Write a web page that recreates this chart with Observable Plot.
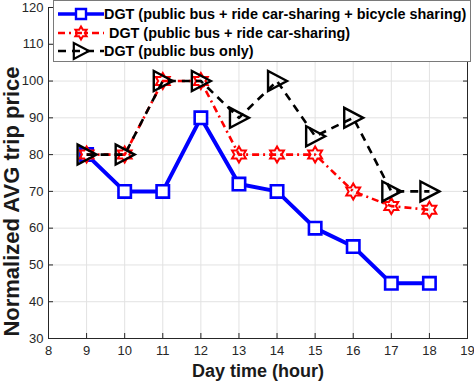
<!DOCTYPE html>
<html><head><meta charset="utf-8">
<script src="https://cdn.jsdelivr.net/npm/d3@7"></script>
<script src="https://cdn.jsdelivr.net/npm/@observablehq/plot@0.6"></script>
<style>
body{margin:0;background:#fff;}
#wrap{position:relative;width:474px;height:382px;font-family:"Liberation Sans",Arial,Helvetica,sans-serif;}
#legend{position:absolute;left:53px;top:0;width:418px;height:62px;background:#fff;border:1px solid #7a7a7a;box-sizing:border-box;}
.row{position:absolute;left:0;height:18px;display:flex;align-items:center;font-weight:bold;font-size:14.4px;color:#000;white-space:nowrap;}
.row svg{flex:none;}
</style></head><body><div id="wrap"></div>
<script>
// ---- data ----
const hours = [9, 10, 11, 12, 13, 14, 15, 16, 17, 18];
const bikeSharing = [80, 70, 70, 90, 72, 70, 60, 55, 45, 45];
const rideSharing = [80, 80, 100, 100, 80, 80, 80, 70, 66, 65];
const busOnly = [80, 80, 100, 100, 90, 100, 85, 90, 70, 70];
const seriesNames = [
  "DGT (public bus + ride car-sharing + bicycle sharing)",
  "DGT (public bus + ride car-sharing)",
  "DGT (public bus only)"
];
const xTicks = [8, 9, 10, 11, 12, 13, 14, 15, 16, 17, 18, 19];
const yTicks = [30, 40, 50, 60, 70, 80, 90, 100, 110, 120];
const xLabel = "Day time (hour)";
const yLabel = "Normalized AVG trip price";

// ---- custom marker symbols ----
const rad = size => Math.sqrt(size / Math.PI);
const squareSym = {draw(c, size) {const r = rad(size); c.moveTo(-r, -r); c.lineTo(r, -r); c.lineTo(r, r); c.lineTo(-r, r); c.closePath();}};
const hexSym = {draw(c, size) {
  const r = rad(size), ri = r / Math.sqrt(3);
  for (let k = 0; k < 12; k++) {
    const a = -Math.PI / 2 + k * Math.PI / 6, rr = k % 2 ? ri : r;
    const x = rr * Math.cos(a), y = rr * Math.sin(a);
    k ? c.lineTo(x, y) : c.moveTo(x, y);
  }
  c.closePath();
}};
const triSym = {draw(c, size) {const r = rad(size); c.moveTo(r, 0); c.lineTo(-0.9 * r, -r); c.lineTo(-0.9 * r, r); c.closePath();}};

const series = [
  {name: seriesNames[0], values: bikeSharing, color: "#0000ff", width: 4, dash: null, symbol: squareSym, r: 6.2, sw: 2.6, fill: "white", lr: 5, lsw: 2.4, lwidth: 3.5},
  {name: seriesNames[1], values: rideSharing, color: "#ff0000", width: 2.6, dash: "7,4,2,4", symbol: hexSym, r: 8, sw: 2, fill: "none", lr: 6.5, lsw: 2, lwidth: 2.4},
  {name: seriesNames[2], values: busOnly, color: "#000000", width: 2.6, dash: "8,6", symbol: triSym, r: 10, sw: 2.4, fill: "none", lr: 8, lsw: 2.2, lwidth: 2.4}
];

const font = '"Liberation Sans", Arial, Helvetica, sans-serif';
const axisColor = "#262626";

const marks = [
  Plot.gridX(xTicks, {stroke: "#e2e2e2", strokeOpacity: 1}),
  Plot.gridY(yTicks, {stroke: "#e2e2e2", strokeOpacity: 1}),
  Plot.frame({stroke: axisColor, strokeWidth: 1}),
  Plot.axisX(xTicks, {tickSize: 0, tickPadding: 7, fontSize: 13, fill: axisColor, label: null}),
  Plot.axisY(yTicks, {tickSize: 0, tickPadding: 5, fontSize: 13, fill: axisColor, label: null}),
  Plot.axisX(xTicks, {anchor: "bottom", tickSize: -5, stroke: axisColor, fill: "none", label: null}),
  Plot.axisY(yTicks, {anchor: "left", tickSize: -5, stroke: axisColor, fill: "none", label: null}),
  Plot.axisY(yTicks, {anchor: "right", tickSize: -5, stroke: axisColor, fill: "none", label: null})
];
for (const s of series) {
  marks.push(Plot.line(hours, {x: d => d, y: (d, i) => s.values[i], stroke: s.color, strokeWidth: s.width,
    strokeDasharray: s.dash, strokeLinejoin: "round", strokeLinecap: "butt"}));
  marks.push(Plot.dot(hours, {x: d => d, y: (d, i) => s.values[i], symbol: s.symbol, r: s.r,
    stroke: s.color, strokeWidth: s.sw, fill: s.fill}));
}
marks.push(Plot.text([xLabel], {frameAnchor: "bottom", textAnchor: "middle", lineAnchor: "middle", dy: 33, fontSize: 18, fontWeight: "bold", fill: "#1a1a1a"}));
marks.push(Plot.text([yLabel], {frameAnchor: "left", textAnchor: "middle", lineAnchor: "middle", rotate: -90, dx: -37, dy: 28.5, fontSize: 22, fontWeight: "bold", fill: "#1a1a1a"}));

const chart = Plot.plot({
  width: 474, height: 382,
  marginLeft: 48, marginRight: 7, marginTop: 7, marginBottom: 44,
  x: {domain: [8, 19]},
  y: {domain: [30, 120]},
  style: {fontFamily: font, fontSize: "13px", background: "#fff", overflow: "visible"},
  marks
});
const wrap = document.getElementById("wrap");
wrap.appendChild(chart);

// ---- legend (HTML overlay inside the axes, as in the reference) ----
const legend = document.createElement("div");
legend.id = "legend";
const rowCenters = [13, 32, 50];
series.forEach((s, i) => {
  const row = document.createElement("div");
  row.className = "row";
  row.style.top = (rowCenters[i] - 9) + "px";
  const svg = d3.create("svg").attr("width", 50).attr("height", 18).style("overflow", "visible");
  svg.append("line").attr("x1", 4).attr("x2", 50).attr("y1", 9).attr("y2", 9)
    .attr("stroke", s.color).attr("stroke-width", s.lwidth).attr("stroke-dasharray", s.dash);
  const p = d3.path();
  s.symbol.draw(p, s.lr * s.lr * Math.PI);
  svg.append("path").attr("d", p.toString()).attr("transform", "translate(27,9)")
    .attr("stroke", s.color).attr("stroke-width", s.lsw).attr("fill", s.fill);
  row.appendChild(svg.node());
  const span = document.createElement("span");
  span.textContent = s.name;
  if (i === 1) span.style.paddingLeft = "5px";
  row.appendChild(span);
  legend.appendChild(row);
});
wrap.appendChild(legend);
</script>
</body></html>
